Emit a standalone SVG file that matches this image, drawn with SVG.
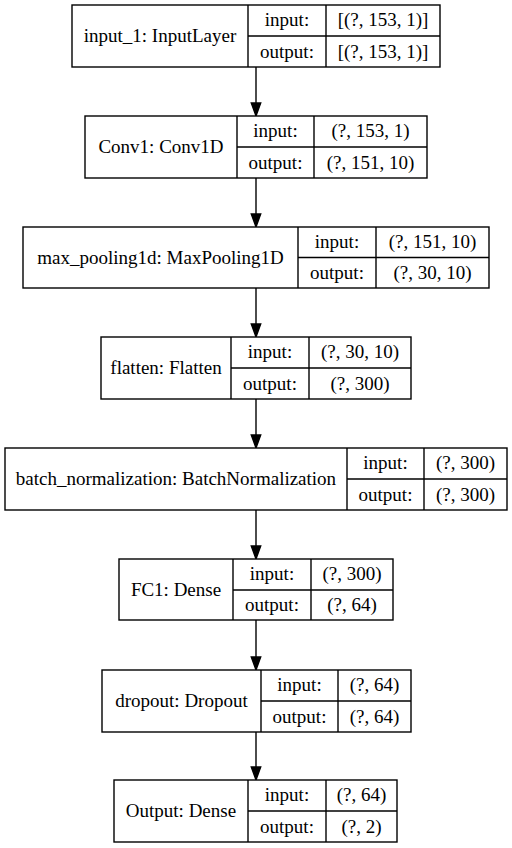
<svg xmlns="http://www.w3.org/2000/svg" width="512" height="848" viewBox="0 0 512 848">
<defs>
<style>
rect,line.d{fill:none;stroke:#000;stroke-width:1.4}
rect{fill:#fff}
text{font-family:"Liberation Serif","Times New Roman",serif;font-size:19px;fill:#000;text-anchor:middle}
.e line{stroke:#000;stroke-width:1.4}
.e polygon{fill:#000;stroke:#000;stroke-width:1.4}
</style>
</defs>
<rect x="0" y="0" width="512" height="848" style="fill:#fff;stroke:none"/>
<g class="e" id="edges">
<line x1="256" y1="67" x2="256" y2="103"/><polygon points="251.3,103 256,116 260.7,103"/>
<line x1="256" y1="178" x2="256" y2="214"/><polygon points="251.3,214 256,227 260.7,214"/>
<line x1="256" y1="288" x2="256" y2="324"/><polygon points="251.3,324 256,337 260.7,324"/>
<line x1="256" y1="399" x2="256" y2="435"/><polygon points="251.3,435 256,448 260.7,435"/>
<line x1="256" y1="510" x2="256" y2="546"/><polygon points="251.3,546 256,559 260.7,546"/>
<line x1="256" y1="620" x2="256" y2="657"/><polygon points="251.3,657 256,670 260.7,657"/>
<line x1="256" y1="732" x2="256" y2="767"/><polygon points="251.3,767 256,780 260.7,767"/>
</g>
<g id="n1">
<rect x="72" y="5" width="368" height="62"/>
<line class="d" x1="248" y1="5" x2="248" y2="67"/><line class="d" x1="326" y1="5" x2="326" y2="67"/><line class="d" x1="248" y1="36" x2="440" y2="36"/>
<text x="160" y="42">input_1: InputLayer</text>
<text x="287" y="26">input:</text><text x="287" y="57.5">output:</text>
<text x="383" y="26">[(?, 153, 1)]</text><text x="383" y="57.5">[(?, 153, 1)]</text>
</g>
<g id="n2">
<rect x="85" y="116" width="342" height="62"/>
<line class="d" x1="237" y1="116" x2="237" y2="178"/><line class="d" x1="314" y1="116" x2="314" y2="178"/><line class="d" x1="237" y1="147" x2="427" y2="147"/>
<text x="161" y="153">Conv1: Conv1D</text>
<text x="275.5" y="137">input:</text><text x="275.5" y="168.5">output:</text>
<text x="370.5" y="137">(?, 153, 1)</text><text x="370.5" y="168.5">(?, 151, 10)</text>
</g>
<g id="n3">
<rect x="23" y="227" width="466" height="61"/>
<line class="d" x1="298" y1="227" x2="298" y2="288"/><line class="d" x1="376" y1="227" x2="376" y2="288"/><line class="d" x1="298" y1="257.5" x2="489" y2="257.5"/>
<text x="160.5" y="263.5">max_pooling1d: MaxPooling1D</text>
<text x="337" y="248">input:</text><text x="337" y="279">output:</text>
<text x="432.5" y="248">(?, 151, 10)</text><text x="432.5" y="279">(?, 30, 10)</text>
</g>
<g id="n4">
<rect x="101" y="337" width="310" height="62"/>
<line class="d" x1="231" y1="337" x2="231" y2="399"/><line class="d" x1="309" y1="337" x2="309" y2="399"/><line class="d" x1="231" y1="368" x2="411" y2="368"/>
<text x="166" y="374">flatten: Flatten</text>
<text x="270" y="358">input:</text><text x="270" y="389.5">output:</text>
<text x="360" y="358">(?, 30, 10)</text><text x="360" y="389.5">(?, 300)</text>
</g>
<g id="n5">
<rect x="5" y="448" width="502" height="62"/>
<line class="d" x1="347" y1="448" x2="347" y2="510"/><line class="d" x1="424" y1="448" x2="424" y2="510"/><line class="d" x1="347" y1="479" x2="507" y2="479"/>
<text x="176" y="485">batch_normalization: BatchNormalization</text>
<text x="385.5" y="469">input:</text><text x="385.5" y="500.5">output:</text>
<text x="465.5" y="469">(?, 300)</text><text x="465.5" y="500.5">(?, 300)</text>
</g>
<g id="n6">
<rect x="119" y="559" width="274" height="61"/>
<line class="d" x1="233" y1="559" x2="233" y2="620"/><line class="d" x1="311" y1="559" x2="311" y2="620"/><line class="d" x1="233" y1="590" x2="393" y2="590"/>
<text x="176" y="596">FC1: Dense</text>
<text x="272" y="580">input:</text><text x="272" y="611">output:</text>
<text x="352" y="580">(?, 300)</text><text x="352" y="611">(?, 64)</text>
</g>
<g id="n7">
<rect x="102" y="670" width="309" height="62"/>
<line class="d" x1="261" y1="670" x2="261" y2="732"/><line class="d" x1="338" y1="670" x2="338" y2="732"/><line class="d" x1="261" y1="701" x2="411" y2="701"/>
<text x="181.5" y="707">dropout: Dropout</text>
<text x="299.5" y="691">input:</text><text x="299.5" y="722.5">output:</text>
<text x="374.5" y="691">(?, 64)</text><text x="374.5" y="722.5">(?, 64)</text>
</g>
<g id="n8">
<rect x="114" y="780" width="283" height="62"/>
<line class="d" x1="248" y1="780" x2="248" y2="842"/><line class="d" x1="326" y1="780" x2="326" y2="842"/><line class="d" x1="248" y1="811" x2="397" y2="811"/>
<text x="181" y="817">Output: Dense</text>
<text x="287" y="801">input:</text><text x="287" y="832.5">output:</text>
<text x="361.5" y="801">(?, 64)</text><text x="361.5" y="832.5">(?, 2)</text>
</g>
</svg>
